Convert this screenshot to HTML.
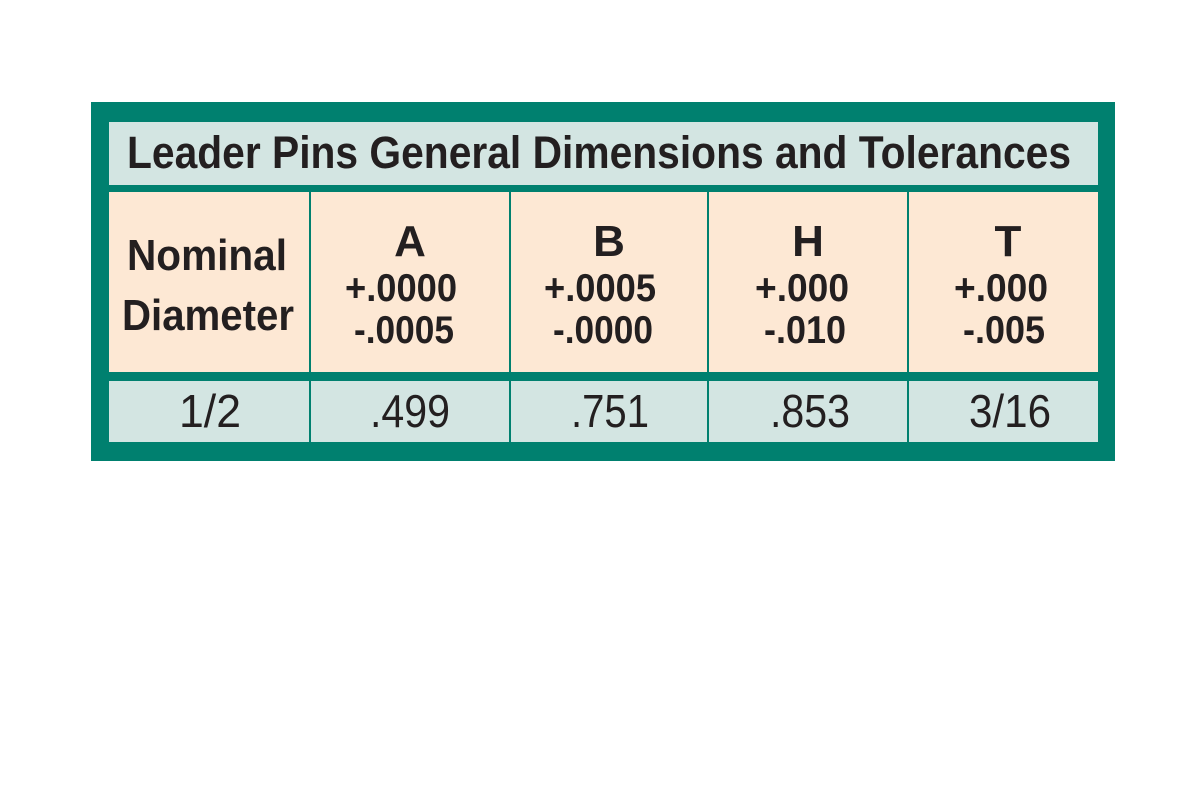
<!DOCTYPE html>
<html><head><meta charset="utf-8"><style>
html,body{margin:0;padding:0;background:#fff;width:1200px;height:800px;overflow:hidden}
svg{display:block}
text{font-family:"Liberation Sans Narrow","Liberation Sans",sans-serif;fill:#231f20}
.b{font-weight:bold}
</style></head><body>
<svg width="1200" height="800" viewBox="0 0 1200 800">
<rect x="91" y="102" width="1024" height="359" fill="#00806f"/>
<rect x="109" y="122" width="989" height="63" fill="#d3e5e2"/>
<rect x="109" y="192" width="989" height="180" fill="#fde8d4"/>
<rect x="109" y="381" width="989" height="61" fill="#d3e5e2"/>
<g fill="#00806f">
<rect x="309" y="192" width="2" height="250"/>
<rect x="509" y="192" width="2" height="250"/>
<rect x="707" y="192" width="2" height="250"/>
<rect x="907" y="192" width="2" height="250"/>
</g>
<text class="b" x="127" y="168" font-size="45" textLength="944" lengthAdjust="spacingAndGlyphs">Leader Pins General Dimensions and Tolerances</text>
<text class="b" x="127" y="270" font-size="44" textLength="160" lengthAdjust="spacingAndGlyphs">Nominal</text>
<text class="b" x="122" y="330" font-size="44" textLength="172" lengthAdjust="spacingAndGlyphs">Diameter</text>
<g class="b" text-anchor="middle">
<text x="410" y="256" font-size="44">A</text>
<text x="401" y="301" font-size="39" textLength="112" lengthAdjust="spacingAndGlyphs">+.0000</text>
<text x="404" y="343" font-size="39" textLength="100" lengthAdjust="spacingAndGlyphs">-.0005</text>
<text x="609" y="256" font-size="44">B</text>
<text x="600" y="301" font-size="39" textLength="112" lengthAdjust="spacingAndGlyphs">+.0005</text>
<text x="603" y="343" font-size="39" textLength="100" lengthAdjust="spacingAndGlyphs">-.0000</text>
<text x="808" y="256" font-size="44">H</text>
<text x="802" y="301" font-size="39" textLength="94" lengthAdjust="spacingAndGlyphs">+.000</text>
<text x="805" y="343" font-size="39" textLength="82" lengthAdjust="spacingAndGlyphs">-.010</text>
<text x="1008" y="256" font-size="44">T</text>
<text x="1001" y="301" font-size="39" textLength="94" lengthAdjust="spacingAndGlyphs">+.000</text>
<text x="1004" y="343" font-size="39" textLength="82" lengthAdjust="spacingAndGlyphs">-.005</text>
</g>
<g text-anchor="middle" font-size="46">
<text x="210" y="427" textLength="62" lengthAdjust="spacingAndGlyphs">1/2</text>
<text x="410" y="427" textLength="80" lengthAdjust="spacingAndGlyphs">.499</text>
<text x="610" y="427" textLength="78" lengthAdjust="spacingAndGlyphs">.751</text>
<text x="810" y="427" textLength="80" lengthAdjust="spacingAndGlyphs">.853</text>
<text x="1010" y="427" textLength="82" lengthAdjust="spacingAndGlyphs">3/16</text>
</g>
</svg>
</body></html>
